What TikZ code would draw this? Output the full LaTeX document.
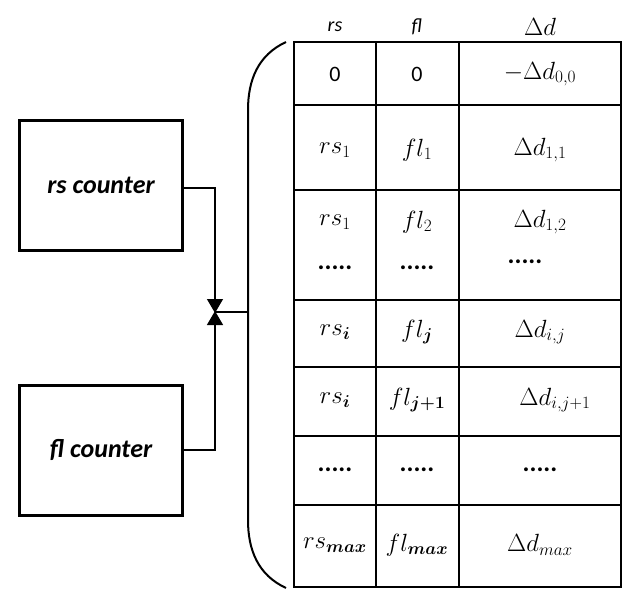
\documentclass[tikz,border=0pt]{standalone}
\usepackage{amsmath}
\usepackage{fontspec}
\setmainfont{Carlito}
\usetikzlibrary{arrows.meta}
\begin{document}
\begin{tikzpicture}[x=1pt,y=-1pt,
  box/.style={draw,line width=3pt},
  grid/.style={line width=2.5pt},
  cell/.style={font=\fontsize{26}{30}\selectfont},
  sm/.style={font=\fontsize{20}{24}\selectfont},
  conn/.style={line width=1.2pt}]
\useasboundingbox (0,0) rectangle (638,600);
% boxes
\node[box,minimum width=163pt,minimum height=130pt,font=\fontsize{26}{30}\selectfont\bfseries\itshape] (rsc) at (101,185) {rs counter};
\node[box,minimum width=163pt,minimum height=130pt,font=\fontsize{26}{30}\selectfont\bfseries\itshape] (flc) at (101,450) {fl counter};
\coordinate (j) at (215,312);
\coordinate (b) at (248,312);
\draw[conn,-{Triangle[length=14pt,width=16pt]}] ([yshift=-3pt]rsc.east) -| ([yshift=-1pt]j);
\draw[conn,-{Triangle[length=14pt,width=16pt]}] (flc.east) -| ([yshift=1pt]j);
\draw[conn,line width=1.5pt] (j) -- (b);
% brace
\draw[line width=2pt] (286,42) .. controls (258,55) and (248,80) .. (248,110) -- (248,520) .. controls (248,550) and (258,575) .. (286,588);
% table
\draw[grid] (294,42) rectangle (621,587);
\foreach \yy in {105,190,300,367,436,505} \draw[grid] (294,\yy) -- (621,\yy);
\draw[grid] (376,42) -- (376,587);
\draw[grid] (459,42) -- (459,587);
% headers
\node[sm] (h1) at (335,27) {\itshape rs};
\node[sm] (h2) at (417,27) {\itshape fl};
\node[cell] (h3) at (540,27) {$\Delta d$};
% rows
\node[font=\fontsize{22}{26}\selectfont] (a1) at (335,74) {0};
\node[font=\fontsize{22}{26}\selectfont] (a2) at (417,74) {0};
\node[cell] (a3) at (540,74) {$-\Delta d_{0,0}$};
\node[cell] (b1) at (335,150) {$rs_1$};
\node[cell] (b2) at (417,150) {$fl_1$};
\node[cell] (b3) at (540,150) {$\Delta d_{1,1}$};
\node[cell] (c1) at (335,222) {$rs_1$};
\node[cell] (c2) at (417,222) {$fl_2$};
\node[cell] (c3) at (540,222) {$\Delta d_{1,2}$};
\node[cell] (d1) at (335,268) {\textbf{.....}};
\node[cell] (d2) at (417,268) {\textbf{.....}};
\node[cell] (d3) at (525,262) {\textbf{.....}};
\node[cell] (e1) at (335,332) {$rs_{\boldsymbol{i}}$};
\node[cell] (e2) at (417,332) {$fl_{\boldsymbol{j}}$};
\node[cell] (e3) at (540,332) {$\Delta d_{i,j}$};
\node[cell] (f1) at (335,400) {$rs_{\boldsymbol{i}}$};
\node[cell] (f2) at (417,400) {$fl_{\boldsymbol{j+1}}$};
\node[cell] (f3) at (555,400) {$\Delta d_{i,j+1}$};
\node[cell] (g1) at (335,470) {\textbf{.....}};
\node[cell] (g2) at (417,470) {\textbf{.....}};
\node[cell] (g3) at (540,470) {\textbf{.....}};
\node[cell,inner sep=0pt] (k1) at (335,545) {$rs_{\boldsymbol{max}}$};
\node[cell,inner sep=0pt] (k2) at (417,545) {$fl_{\boldsymbol{max}}$};
\node[cell] (k3) at (540,545) {$\Delta d_{max}$};
\end{tikzpicture}
\end{document}
